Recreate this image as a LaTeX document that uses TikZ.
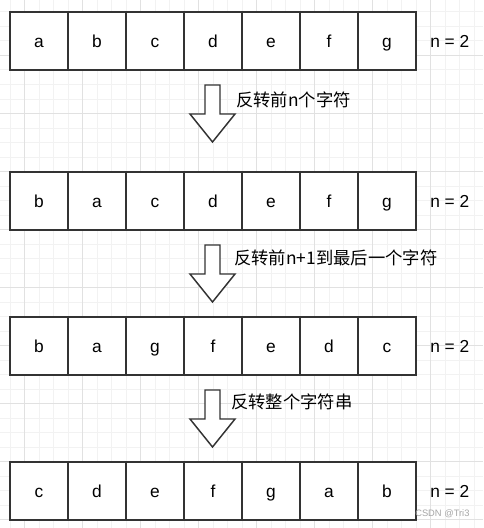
\documentclass[tikz,border=0pt]{standalone}
\usepackage{fontspec}
\setmainfont{Liberation Sans}
\newfontfamily\cjk{Noto Sans CJK SC}
\usepackage{tikz}
\usetikzlibrary{positioning}
\definecolor{gridminor}{HTML}{F2F2F2}
\definecolor{gridmajor}{HTML}{E1E1E1}
\definecolor{boxline}{HTML}{333333}
\definecolor{marktext}{HTML}{A6A6A6}
\newcommand{\hollowarrow}[2]{\draw [hollow] ({#1-7.5},#2) -- ++(15,0) -- ++(0,29) -- ++(15,0) -- ++(-22.5,28) -- ++(-22.5,-28) -- ++(15,0) -- cycle;}

\begin{document}
\begin{tikzpicture}[x=0.75pt, y=-0.75pt,
		box/.style={minimum width=43.5pt, minimum height=43.5pt, inner sep=0pt,
			text height=9.3pt, text depth=0pt,
			draw=boxline, line width=1.1pt, rectangle, fill=white,
			font=\fontsize{13}{15}\selectfont},
		count/.style={anchor=west, inner sep=0pt, text height=9.3pt, text depth=0pt,
			font=\fontsize{13}{15}\selectfont},
		hint/.style={anchor=west, inner sep=0pt, font=\cjk\fontsize{13}{15}\selectfont},
		hollow/.style={draw=boxline, line width=1.1pt, fill=white, line join=miter}]
		%% Background grid
		\fill [white] (0,0) rectangle (483,528);
		\useasboundingbox (0,0) rectangle (483,528);
		\foreach \i in {0,...,32} \draw [gridminor, line width=0.75pt] ({10+14.5*\i},0) -- ({10+14.5*\i},528);
		\foreach \i in {0,...,35} \draw [gridminor, line width=0.75pt] (0,{12+14.5*\i}) -- (483,{12+14.5*\i});
		\foreach \i in {0,...,7} \draw [gridmajor, line width=0.75pt] ({24.5+58*\i},0) -- ({24.5+58*\i},528);
		\foreach \i in {0,...,8} \draw [gridmajor, line width=0.75pt] (0,{55.5+58*\i}) -- (483,{55.5+58*\i});
		%% Row 1
		\node [box] at (39,41) (a1) {a};
		\node [box] at (97,41) (b1) {b};
		\node [box] at (155,41) (c1) {c};
		\node [box] at (213,41) (d1) {d};
		\node [box] at (271,41) (e1) {e};
		\node [box] at (329,41) (f1) {f};
		\node [box] at (387,41) (g1) {g};
		\node [count] at (430,41) (n1) {n = 2};
		%% Step 1
		\hollowarrow{212.5}{85}
		\node [hint] at (236,100) (h1) {反转前n个字符};
		%% Row 2
		\node [box] at (39,201) (a2) {b};
		\node [box] at (97,201) (b2) {a};
		\node [box] at (155,201) (c2) {c};
		\node [box] at (213,201) (d2) {d};
		\node [box] at (271,201) (e2) {e};
		\node [box] at (329,201) (f2) {f};
		\node [box] at (387,201) (g2) {g};
		\node [count] at (430,201) (n2) {n = 2};
		%% Step 2
		\hollowarrow{212.5}{245}
		\node [hint] at (234,258) (h2) {反转前n+1到最后一个字符};
		%% Row 3
		\node [box] at (39,346) (a3) {b};
		\node [box] at (97,346) (b3) {a};
		\node [box] at (155,346) (c3) {g};
		\node [box] at (213,346) (d3) {f};
		\node [box] at (271,346) (e3) {e};
		\node [box] at (329,346) (f3) {d};
		\node [box] at (387,346) (g3) {c};
		\node [count] at (430,346) (n3) {n = 2};
		%% Step 3
		\hollowarrow{212.5}{390}
		\node [hint] at (231,402) (h3) {反转整个字符串};
		%% Row 4
		\node [box] at (39,491) (a4) {c};
		\node [box] at (97,491) (b4) {d};
		\node [box] at (155,491) (c4) {e};
		\node [box] at (213,491) (d4) {f};
		\node [box] at (271,491) (e4) {g};
		\node [box] at (329,491) (f4) {a};
		\node [box] at (387,491) (g4) {b};
		\node [count] at (430,491) (n4) {n = 2};
		%% Watermark
		\node [anchor=west, inner sep=0pt, text=marktext, font=\fontsize{7}{8}\selectfont] at (415,514) (mark) {CSDN @Tri3};
	\end{tikzpicture}
\end{document}
